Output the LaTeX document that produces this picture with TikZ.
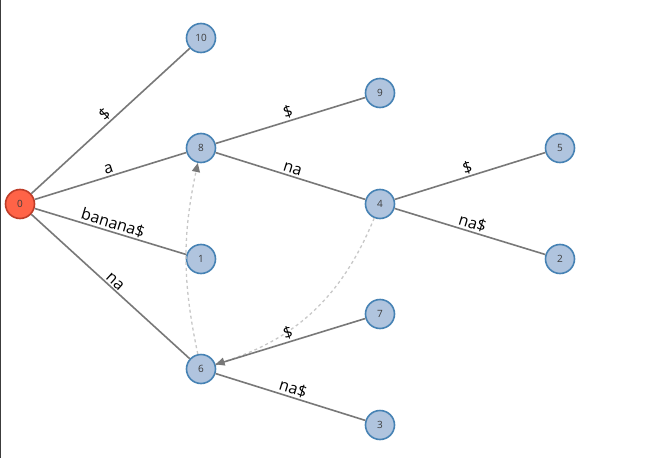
\documentclass[tikz,border=0pt]{standalone}
\usepackage{fontspec}
\setmainfont{Open Sans}
\usetikzlibrary{arrows.meta}
\definecolor{ndfill}{RGB}{176,196,222}
\definecolor{nddraw}{RGB}{70,130,180}
\definecolor{rtfill}{RGB}{255,99,71}
\definecolor{rtdraw}{RGB}{190,60,40}
\definecolor{edcol}{RGB}{120,120,120}
\definecolor{slcol}{RGB}{200,200,200}
\definecolor{txcol}{RGB}{60,60,60}
\begin{document}
\begin{tikzpicture}[x=1pt,y=-1pt,
  nd/.style={circle,draw=nddraw,fill=ndfill,line width=1.6pt,minimum size=29pt,inner sep=0pt,font=\fontsize{10}{11}\selectfont,text=txcol},
  root/.style={nd,fill=rtfill,draw=rtdraw},
  ed/.style={draw=edcol,line width=1.6pt},
  lb/.style={midway,sloped,above,font=\fontsize{16}{18}\selectfont,inner sep=1.5pt},
  sl/.style={draw=slcol,line width=1.3pt,dash pattern=on 3pt off 3pt,-{Triangle[length=9pt,width=8pt,fill=edcol,color=edcol]}}]
\useasboundingbox (0,0) rectangle (670,458);
\fill[white] (0,0) rectangle (670,458);
\draw[line width=1.2pt,txcol] (0.6,0) -- (0.6,458);
\node[root] (n0) at (20,204) {0};
\node[nd] (n10) at (201,38) {10};
\node[nd] (n8) at (201,148) {8};
\node[nd] (n1) at (201,259) {1};
\node[nd] (n6) at (201,369) {6};
\node[nd] (n9) at (380,93) {9};
\node[nd] (n4) at (380,204) {4};
\node[nd] (n7) at (380,314) {7};
\node[nd] (n3) at (380,425) {3};
\node[nd] (n5) at (560,148) {5};
\node[nd] (n2) at (560,259) {2};
\draw[sl] (n6) to[bend left=12] (n8);
\draw[sl] (n4) to[bend left=25] (n6);
\draw[ed] (n0) -- node[lb]{\$} (n10);
\draw[ed] (n0) -- node[lb]{a} (n8);
\draw[ed] (n0) -- node[lb]{banana\$} (n1);
\draw[ed] (n0) -- node[lb]{na} (n6);
\draw[ed] (n8) -- node[lb]{\$} (n9);
\draw[ed] (n8) -- node[lb]{na} (n4);
\draw[ed] (n4) -- node[lb]{\$} (n5);
\draw[ed] (n4) -- node[lb]{na\$} (n2);
\draw[ed] (n6) -- node[lb]{\$} (n7);
\draw[ed] (n6) -- node[lb]{na\$} (n3);
\end{tikzpicture}
\end{document}
